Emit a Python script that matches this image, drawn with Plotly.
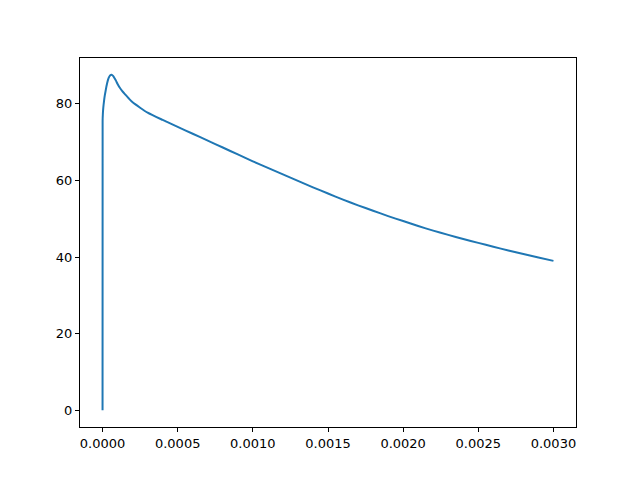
import plotly.graph_objects as go

# values
x_vals = [0, 0.0000005, 0.000002, 0.000005, 0.00001, 0.000015, 0.00002, 0.00003,
          0.00004, 0.00005, 0.00006, 0.00007, 0.00008, 0.00009, 0.0001, 0.000115,
          0.00013, 0.00015, 0.000175, 0.0002, 0.00025, 0.0003,
          0.0004, 0.0005, 0.0006, 0.0007, 0.0008, 0.0009, 0.001,
          0.0011, 0.0012, 0.0013, 0.0014, 0.0015, 0.0016, 0.0017, 0.0018,
          0.0019, 0.002, 0.0021, 0.0022, 0.0023, 0.0024, 0.0025, 0.0026,
          0.0027, 0.0028, 0.0029, 0.003]
y_vals = [0, 75.5, 77.3, 79.0, 80.8, 82.2, 83.3, 85.3,
          86.7, 87.4, 87.6, 87.3, 86.7, 86.0, 85.2, 84.2,
          83.4, 82.5, 81.4, 80.4, 79.0, 77.7,
          75.8, 74.0, 72.2, 70.4, 68.6, 66.8, 65.0,
          63.3, 61.6, 59.9, 58.2, 56.6, 55.0, 53.5, 52.1,
          50.7, 49.4, 48.1, 46.9, 45.8, 44.7, 43.7, 42.7,
          41.7, 40.8, 39.9, 39.0]

fig = go.Figure()
fig.add_trace(go.Scatter(x=x_vals, y=y_vals, mode='lines', line_shape='spline',
                         line=dict(color='#1f77b4', width=2, smoothing=0.6)))

axis_style = dict(showline=True, linecolor='black', linewidth=1, mirror=True,
                  ticks='outside', ticklen=4, tickcolor='black',
                  showgrid=False, zeroline=False,
                  tickfont=dict(family='DejaVu Sans', size=13, color='black'))

fig.update_xaxes(range=[-0.00015, 0.00315], tickvals=[0, 0.0005, 0.001, 0.0015, 0.002, 0.0025, 0.003],
                 tickformat='.4f', **axis_style)
fig.update_yaxes(range=[-4.38, 91.98], tickvals=[0, 20, 40, 60, 80], **axis_style)

# page body adds an 8px offset, so the size and margins are trimmed for it
fig.update_layout(width=632, height=472, showlegend=False,
                  plot_bgcolor='white', paper_bgcolor='white',
                  margin=dict(l=72, r=64, t=50, b=53))

fig.write_html("out.html")
